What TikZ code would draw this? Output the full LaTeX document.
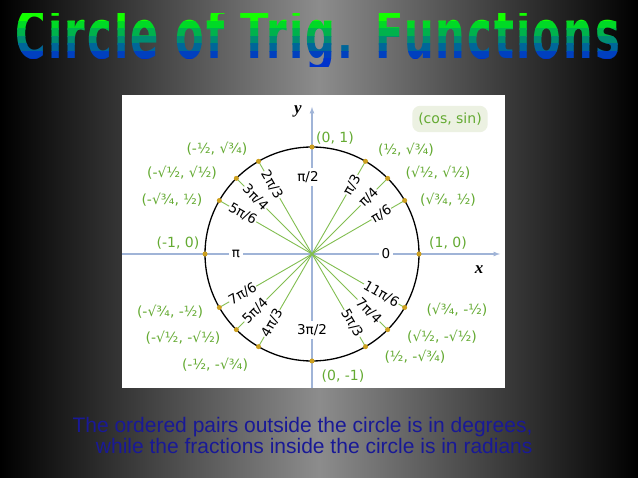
\documentclass[tikz,border=0pt]{standalone}
\usepackage{fontspec}
\usepackage{graphicx}
\usetikzlibrary{calc}
\setmainfont{DejaVu Sans}
\newfontfamily\lib{Liberation Sans}
\newfontfamily\libb[LetterSpace=5]{DejaVu Sans Bold}
\newfontfamily\ser{Liberation Serif}
\definecolor{lg}{RGB}{100,170,50}
\definecolor{ax}{RGB}{160,180,215}
\definecolor{dotc}{RGB}{205,160,30}
\definecolor{ray}{RGB}{130,190,80}
\definecolor{bt}{RGB}{25,25,150}
\begin{document}
\begin{tikzpicture}[x=1pt,y=-1pt,
  coord/.style={text=lg,font=\fontsize{14}{16}\selectfont,inner sep=0.5pt},
  rad/.style={font=\fontsize{13.5}{15}\selectfont,fill=white,inner sep=0.6pt},
  axl/.style={font=\fontsize{13.5}{15}\selectfont,fill=white,inner sep=3pt},
  dotp/.style={circle,fill=dotc,inner sep=0pt,minimum size=5pt}]
\useasboundingbox (0,0) rectangle (638,478);
\shade[left color=black,right color=black!45] (0,0) rectangle (319,478);
\shade[left color=black!45,right color=black] (319,0) rectangle (638,478);
% title with banded gradient
\foreach \i/\c in {0/{green!90!lime},1/{green!85!blue},2/{green!70!blue},3/{green!55!blue},4/{green!40!blue},5/{blue!75!green},6/{blue!80!green}}{
  \begin{scope}
  \clip (0,{14+\i*7.5}) rectangle (638,{14+(\i+1)*7.5+0.5});
  \node[text=\c,inner sep=0pt] (t\i) at (318,40) {\resizebox{604pt}{52pt}{\libb Circle of Trig. Functions}};
  \end{scope}}
\fill[white] (122,95) rectangle (505,388);
% axes
\draw[ax,line width=1.2pt,-latex] (312,388) -- (312,107);
\draw[ax,line width=1.2pt,-latex] (122,254) -- (500,254);
\coordinate (O) at (312,254);
\foreach \a in {30,45,60,120,135,150,210,225,240,300,315,330}
  \draw[ray,line width=0.9pt] (O) -- ++({107*cos(\a)},{-107*sin(\a)});
\draw[line width=1.3pt] (O) circle (107);
\foreach \a in {0,30,45,60,90,120,135,150,180,210,225,240,270,300,315,330}
  \node[dotp] at ($(O)+({107*cos(\a)},{-107*sin(\a)})$) {};
\foreach \a/\t/\r in {30/{π/6}/30,45/{π/4}/45,60/{π/3}/60,120/{2π/3}/-60,135/{3π/4}/-45,150/{5π/6}/-30,
  210/{7π/6}/30,225/{5π/4}/45,240/{4π/3}/60,300/{5π/3}/-60,315/{7π/4}/-45,330/{11π/6}/-30}
  \node[rad,rotate=\r] at ($(O)+({80*cos(\a)},{-80*sin(\a)})$) {\t};
\node[axl] (p2) at (308,177) {π/2};
\node[axl] (pi) at (236,254) {π};
\node[axl] (z) at (386,254) {0};
\node[axl] (p32) at (312,330) {3π/2};
\node[coord] at (335,138) {(0, 1)};
\node[coord] at (406,150) {(½, √¾)};
\node[coord] at (438,173) {(√½, √½)};
\node[coord] at (448,200) {(√¾, ½)};
\node[coord] at (448,243) {(1, 0)};
\node[coord] at (457,310) {(√¾, -½)};
\node[coord] at (442,337) {(√½, -√½)};
\node[coord] at (415,357) {(½, -√¾)};
\node[coord] at (343,376) {(0, -1)};
\node[coord] at (215,365) {(-½, -√¾)};
\node[coord] at (183,338) {(-√½, -√½)};
\node[coord] at (170,312) {(-√¾, -½)};
\node[coord] at (178,243) {(-1, 0)};
\node[coord] at (172,200) {(-√¾, ½)};
\node[coord] at (182,173) {(-√½, √½)};
\node[coord] at (217,149) {(-½, √¾)};
\node[coord,fill={rgb,255:red,236;green,241;blue,226},rounded corners=8pt,inner xsep=6pt,inner ysep=7pt] at (450,119) {(cos, sin)};
\node[font=\ser\bfseries\itshape\fontsize{17}{17}\selectfont] at (298,111) {y};
\node[font=\ser\bfseries\itshape\fontsize{17}{17}\selectfont] at (479,270) {x};
\node[text=bt,font=\lib\fontsize{21}{21}\selectfont,align=right,anchor=east] (bot) at (536,435)
 {The ordered pairs outside the circle is in degrees,\\while the fractions inside the circle is in radians};
\end{tikzpicture}
\end{document}
